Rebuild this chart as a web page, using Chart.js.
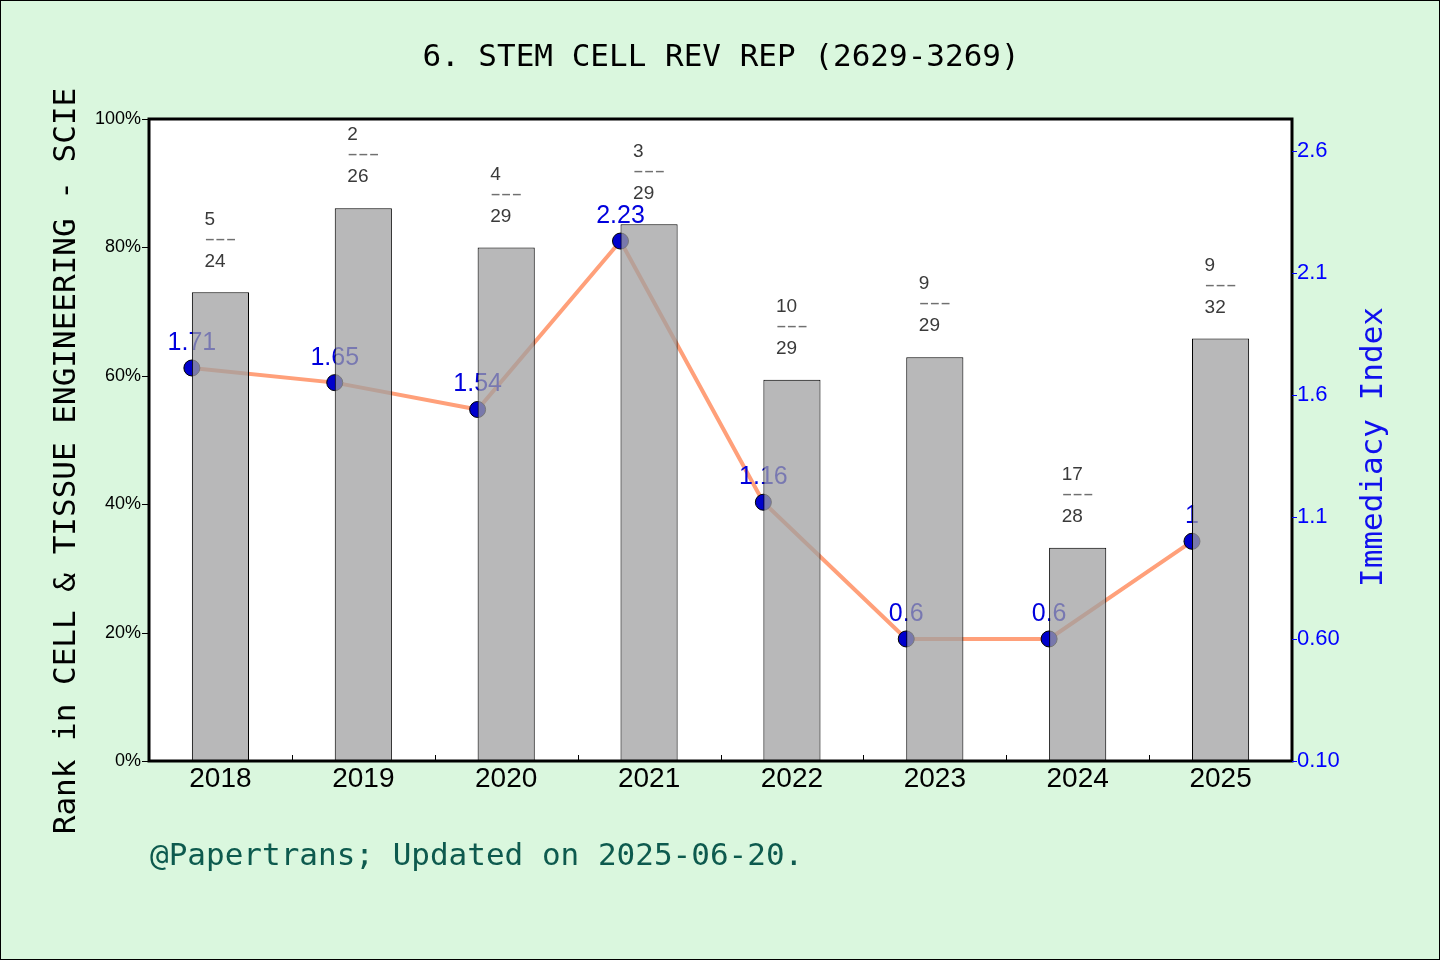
<!DOCTYPE html>
<html>
<head>
<meta charset="utf-8">
<script src="https://cdn.jsdelivr.net/npm/chart.js@4"></script>
<style>
  body { margin: 0; background: #daf7de; }
  #wrap { width: 1440px; height: 960px; }
</style>
</head>
<body>
<div id="wrap"><canvas id="mychart" width="1440" height="960"></canvas></div>
<script>
// chart data
let years = ["2018", "2019", "2020", "2021", "2022", "2023", "2024", "2025"];
let rankPct = [73.0, 86.1, 80.0, 83.6, 59.4, 62.9, 33.2, 65.8];
let ranks = [5, 2, 4, 3, 10, 9, 17, 9];
let totals = [24, 26, 29, 29, 29, 29, 28, 32];
let immediacy = [1.71, 1.65, 1.54, 2.23, 1.16, 0.6, 0.6, 1];
let rightTicks = [0.1, 0.6, 1.1, 1.6, 2.1, 2.6];
let rightTickLabels = ["0.10", "0.60", "1.1", "1.6", "2.1", "2.6"];

let titleText = "6. STEM CELL REV REP (2629-3269)";
let leftTitle = "Rank in CELL & TISSUE ENGINEERING - SCIE";
let rightTitle = "Immediacy Index";
let footer = "@Papertrans; Updated on 2025-06-20.";

let bg = "#daf7de";
let mono = "'DejaVu Sans Mono', monospace";
let sans = "'Liberation Sans', Arial, sans-serif";

// line points sit on the left edge of each bar
let linePoints = immediacy.map((v, i) => ({ x: i - 0.2, y: v }));

let decor = {
  id: "decor",
  beforeDraw(chart) {
    let ctx = chart.ctx;
    let a = chart.chartArea;
    ctx.save();
    ctx.fillStyle = bg;
    ctx.fillRect(0, 0, chart.width, chart.height);
    ctx.fillStyle = "#ffffff";
    ctx.fillRect(a.left, a.top, a.right - a.left, a.bottom - a.top);
    ctx.restore();
  },
  afterDatasetDraw(chart, args) {
    if (args.index !== 1) return;
    // value labels of the line, drawn below the bars
    let ctx = chart.ctx;
    let meta = chart.getDatasetMeta(1);
    ctx.save();
    ctx.font = "25px " + sans;
    ctx.fillStyle = "#0000dd";
    ctx.textAlign = "center";
    ctx.textBaseline = "middle";
    meta.data.forEach((pt, i) => {
      ctx.fillText(String(immediacy[i]), pt.x, pt.y - 25);
    });
    ctx.restore();
  },
  afterDraw(chart) {
    let ctx = chart.ctx;
    let a = chart.chartArea;
    let yl = chart.scales.yl;
    let yr = chart.scales.yr;
    ctx.save();

    // rank fractions above bars
    let meta = chart.getDatasetMeta(0);
    meta.data.forEach((bar, i) => {
      let lx = bar.x - 16;
      ctx.font = "19px " + sans;
      ctx.fillStyle = "#3a3a3a";
      ctx.textAlign = "left";
      ctx.textBaseline = "middle";
      ctx.fillText(String(ranks[i]), lx, bar.y - 73);
      ctx.fillText(String(totals[i]), lx, bar.y - 31);
      ctx.save();
      ctx.fillStyle = "#707070";
      let w = ctx.measureText("---").width;
      ctx.translate(lx, bar.y - 53);
      ctx.scale(32 / w, 1);
      ctx.fillText("---", 0, 0);
      ctx.restore();
    });

    // frame
    ctx.strokeStyle = "#000";
    ctx.lineWidth = 3;
    ctx.strokeRect(a.left, a.top, a.right - a.left, a.bottom - a.top);

    // figure edge
    ctx.lineWidth = 1;
    ctx.strokeRect(0.5, 0.5, chart.width - 1, chart.height - 1);

    // tick marks
    ctx.beginPath();
    for (let v = 0; v <= 100; v += 20) {
      let y = Math.round(yl.getPixelForValue(v)) + 0.5;
      ctx.moveTo(a.left - 7, y);
      ctx.lineTo(a.left, y);
    }
    ctx.stroke();
    ctx.strokeStyle = "#0000ff";
    ctx.beginPath();
    rightTicks.forEach((v) => {
      let y = Math.round(yr.getPixelForValue(v)) + 0.5;
      ctx.moveTo(a.right, y);
      ctx.lineTo(a.right + 5, y);
    });
    ctx.stroke();
    ctx.strokeStyle = "#000";
    ctx.beginPath();
    let cw = (a.right - a.left) / years.length;
    for (let i = 1; i < years.length; i++) {
      let x = Math.round(a.left + i * cw) + 0.5;
      ctx.moveTo(x, a.bottom);
      ctx.lineTo(x, a.bottom - 6);
    }
    ctx.stroke();

    // texts
    ctx.textAlign = "center";
    ctx.textBaseline = "middle";
    ctx.fillStyle = "#000";
    ctx.font = "31px " + mono;
    ctx.fillText(titleText, 721, 58);

    ctx.save();
    ctx.translate(67, 461);
    ctx.rotate(-Math.PI / 2);
    ctx.fillStyle = "#000";
    ctx.fillText(leftTitle, 0, 0);
    ctx.restore();

    ctx.save();
    ctx.translate(1374, 447);
    ctx.rotate(-Math.PI / 2);
    ctx.fillStyle = "#1010ee";
    ctx.fillText(rightTitle, 0, 0);
    ctx.restore();

    ctx.textAlign = "left";
    ctx.fillStyle = "#0d5a4e";
    ctx.fillText(footer, 150, 857);
    ctx.restore();
  },
};

let mychart = document.getElementById("mychart").getContext("2d");

let chart = new Chart(mychart, {
  data: {
    labels: years,
    datasets: [
      {
        type: "bar",
        label: "Rank",
        data: rankPct,
        xAxisID: "x",
        yAxisID: "yl",
        backgroundColor: "rgba(160,160,162,0.75)",
        borderColor: "#000",
        borderWidth: 1,
        barPercentage: 0.4,
        categoryPercentage: 1,
        grouped: false,
        order: 0,
      },
      {
        type: "line",
        label: "Immediacy Index",
        data: linePoints,
        xAxisID: "xl",
        yAxisID: "yr",
        borderColor: "#ffa07a",
        borderWidth: 4,
        pointRadius: 8,
        pointBackgroundColor: "#0000cc",
        pointBorderColor: "#000",
        pointBorderWidth: 1,
        tension: 0,
        order: 1,
      },
    ],
  },
  options: {
    responsive: false,
    animation: false,
    layout: { padding: { top: 119, bottom: 159, left: 0, right: 0 } },
    plugins: { legend: { display: false }, tooltip: { enabled: false } },
    scales: {
      x: {
        type: "category",
        offset: true,
        grid: { display: false, drawTicks: false },
        border: { display: false },
        ticks: { color: "#000", font: { size: 28, family: sans }, padding: 1, maxRotation: 0 },
        afterFit: (s) => { s.height = 40; },
      },
      xl: { type: "linear", display: false, min: -0.5, max: 7.5 },
      yl: {
        type: "linear",
        position: "left",
        min: 0,
        max: 100,
        grid: { display: false, drawTicks: false },
        border: { display: false },
        ticks: {
          stepSize: 20,
          color: "#000",
          font: { size: 18, family: sans },
          padding: 8,
          callback: (v) => v + "%",
        },
        afterFit: (s) => { s.width = 149; },
      },
      yr: {
        type: "linear",
        position: "right",
        min: 0.1,
        max: 2.73,
        grid: { display: false, drawTicks: false },
        border: { display: false },
        afterBuildTicks: (s) => { s.ticks = rightTicks.map((v) => ({ value: v })); },
        ticks: {
          color: "#0000ff",
          font: { size: 22, family: sans },
          padding: 5,
          callback: (v, i) => rightTickLabels[i],
        },
        afterFit: (s) => { s.width = 148; },
      },
    },
  },
  plugins: [decor],
});
</script>
</body>
</html>
